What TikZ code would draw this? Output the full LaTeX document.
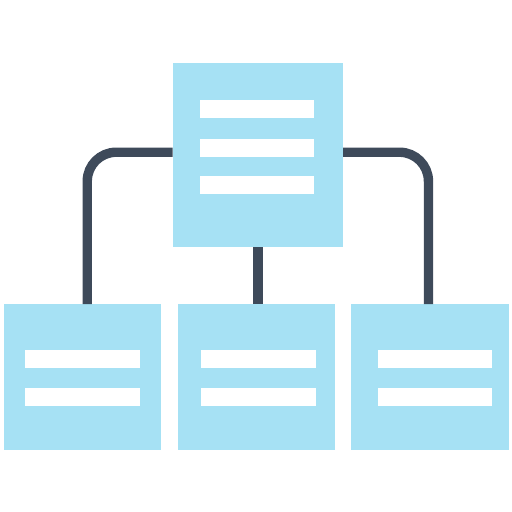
\documentclass[tikz,border=0pt]{standalone}
\usetikzlibrary{calc}
\definecolor{boxblue}{HTML}{A6E1F4}
\definecolor{linedark}{HTML}{3E4A5A}
\begin{document}
\begin{tikzpicture}[x=1pt,y=-1pt,
  box/.style={fill=boxblue,draw=none,inner sep=0pt,anchor=north west},
  bar/.style={fill=white,draw=none,inner sep=0pt,anchor=north west,minimum width=114.6pt,minimum height=18.2pt},
  conn/.style={draw=linedark,line width=9.4pt}]
\useasboundingbox (0,0) rectangle (512,512);
% boxes
\node[box,minimum width=170pt,minimum height=184.4pt] (top) at (172.7,62.3) {};
\node[box,minimum width=157.7pt,minimum height=145.3pt] (left) at (3.3,304) {};
\node[box,minimum width=157.4pt,minimum height=145.3pt] (mid) at (177.3,304) {};
\node[box,minimum width=157.3pt,minimum height=145.3pt] (right) at (351,304) {};
% connectors
\draw[conn,rounded corners=29pt] ([yshift=2.5pt]top.west) -| ([xshift=4.9pt]left.north);
\draw[conn,rounded corners=29pt] ([yshift=2.5pt]top.east) -| ([xshift=-1.4pt]right.north);
\draw[conn] (top.south) -- (top.south |- mid.north);
% bars
\node[bar] (t1) at (199.3,100) {};
\node[bar] (t2) at (199.3,138.3) {};
\node[bar] (t3) at (199.3,176) {};
\node[bar] (l1) at (25,350) {};
\node[bar] (l2) at (25,388) {};
\node[bar] (m1) at (201,350) {};
\node[bar] (m2) at (201,388) {};
\node[bar] (r1) at (377.3,350) {};
\node[bar] (r2) at (377.3,388) {};
\end{tikzpicture}
\end{document}
